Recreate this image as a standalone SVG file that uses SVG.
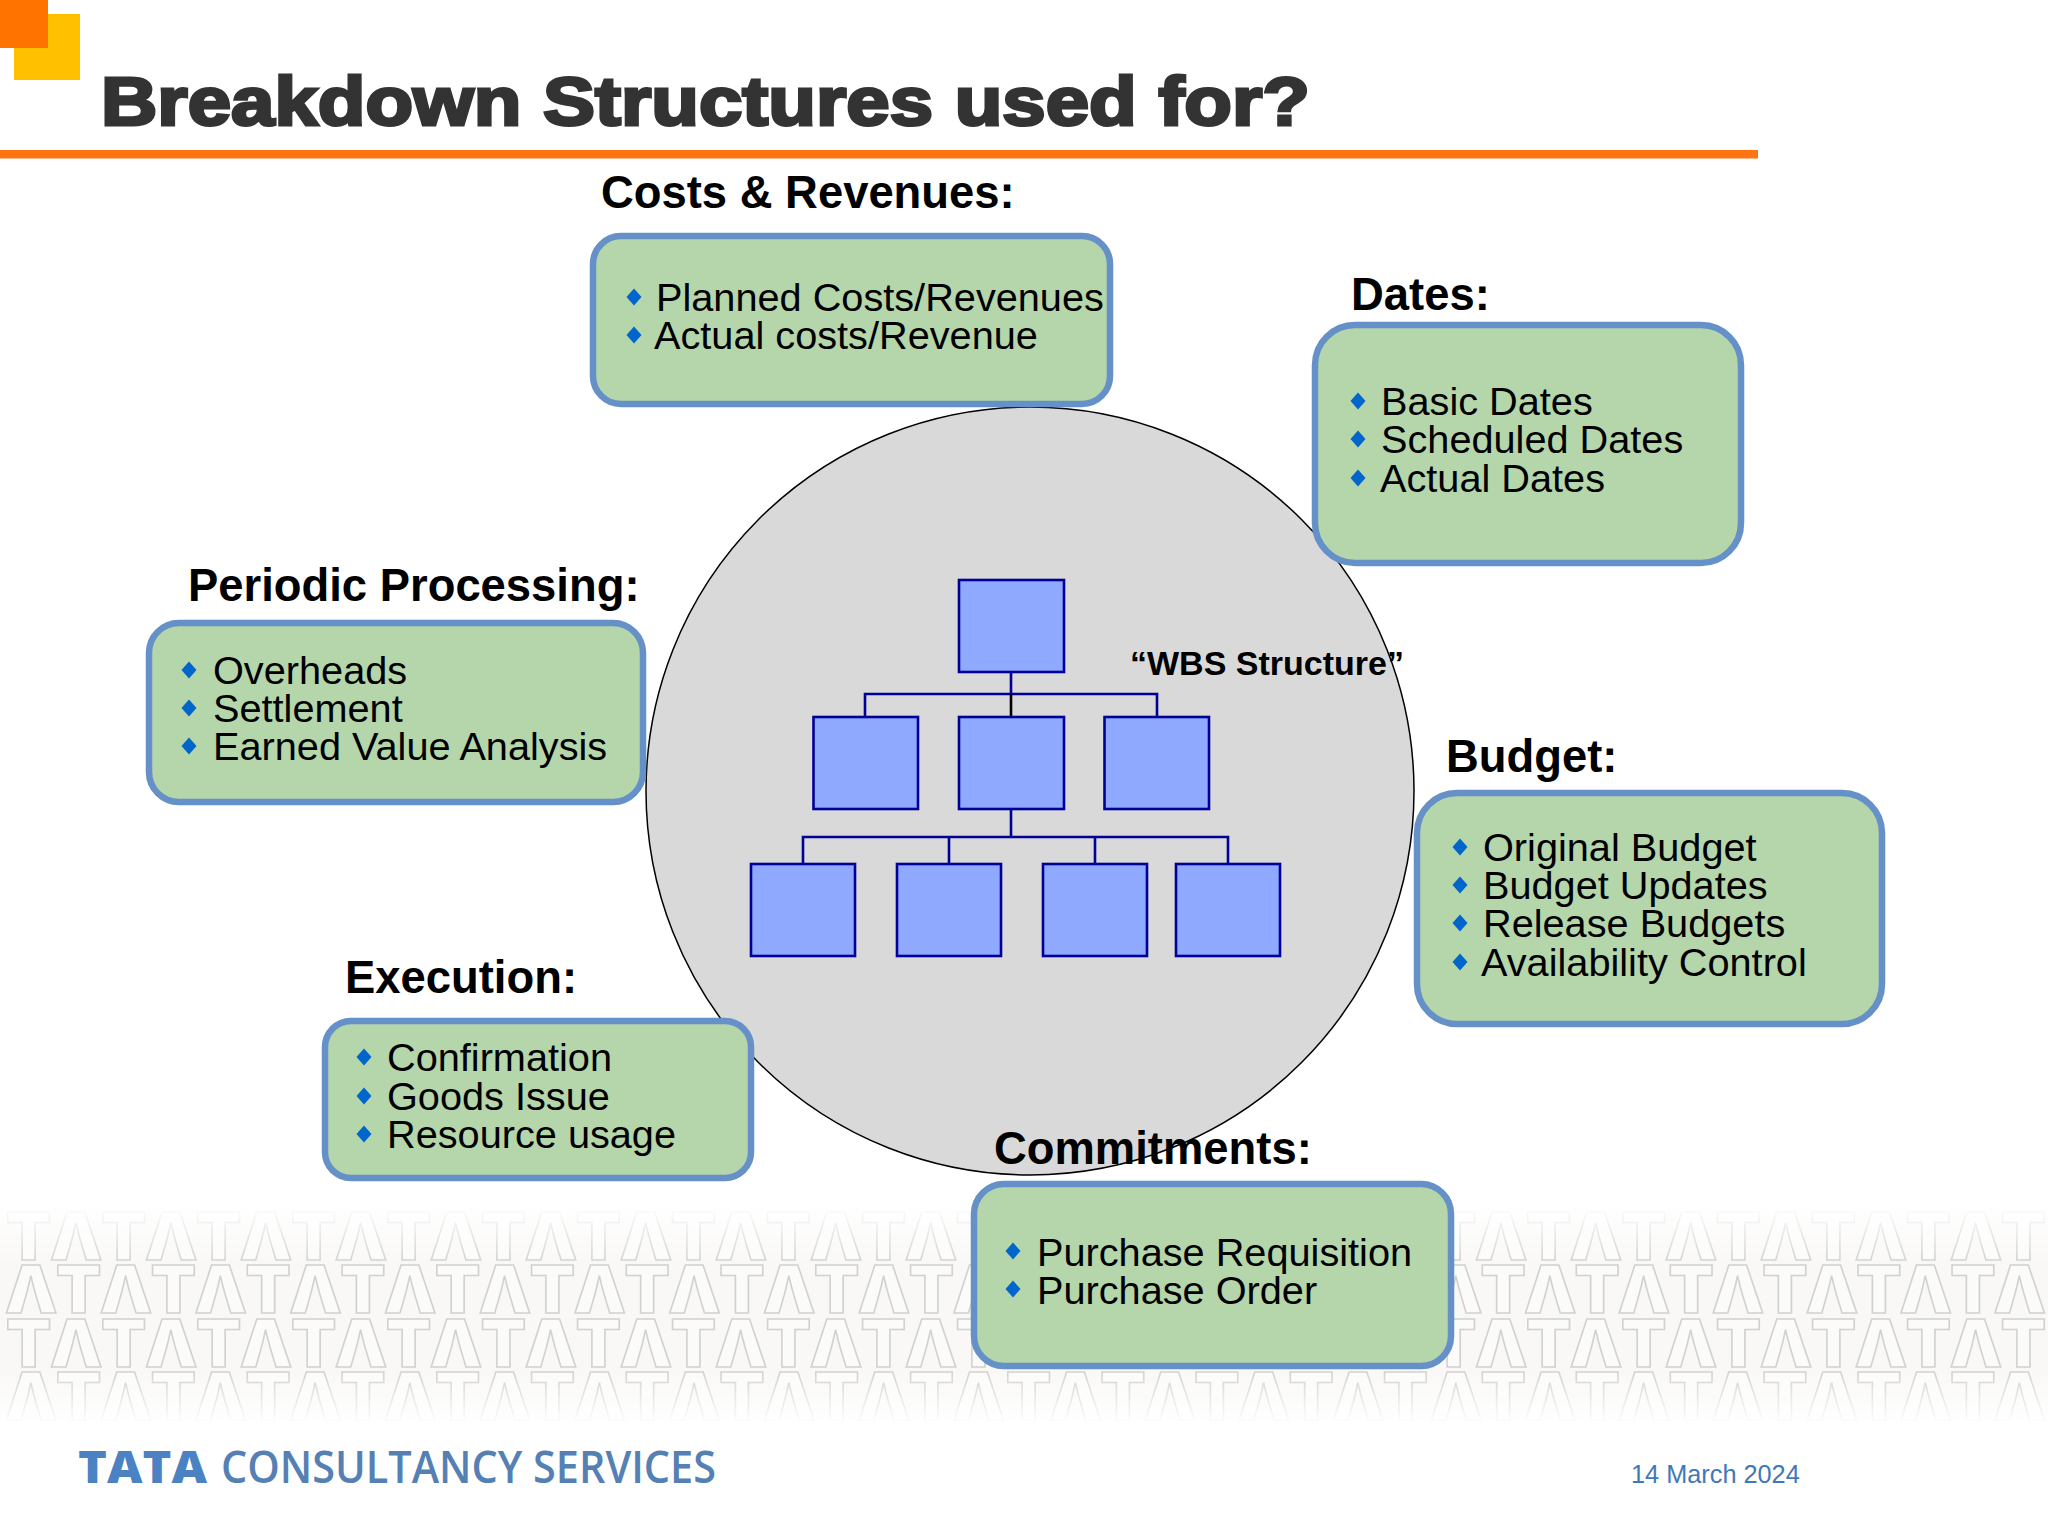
<svg xmlns="http://www.w3.org/2000/svg" width="2048" height="1536" viewBox="0 0 2048 1536">
<style>
text{font-family:"Liberation Sans",Arial,sans-serif}
.h{font-size:45.4px;font-weight:700;fill:#000}
.t{font-size:39.7px;fill:#000}
.box{fill:#B5D5AB;stroke:#6690C8;stroke-width:6.5}
.org{fill:#8FA9FF;stroke:#000099;stroke-width:2.6}
.c{fill:none;stroke:#000099;stroke-width:2.6}
text.wm{font-family:Inter,"Liberation Sans",sans-serif;font-size:66px;font-weight:900;fill:#fbfbfa;stroke:#d2d1cf;stroke-width:1.6;font-kerning:none}
</style>
<defs>
<polygon id="d" points="0,-8.5 7.5,0 0,8.5 -7.5,0" fill="#0066CC"/>
<linearGradient id="fade" gradientUnits="userSpaceOnUse" x1="0" y1="1205" x2="0" y2="1425">
<stop offset="0" stop-color="#fff" stop-opacity="0"/>
<stop offset="0.27" stop-color="#fff"/>
<stop offset="0.75" stop-color="#fff"/>
<stop offset="1" stop-color="#fff" stop-opacity="0"/>
</linearGradient>
<mask id="m" maskUnits="userSpaceOnUse" x="0" y="1200" width="2048" height="230"><rect x="0" y="1200" width="2048" height="230" fill="url(#fade)"/></mask>
</defs>
<rect width="2048" height="1536" fill="#fff"/>
<g id="watermark" mask="url(#m)">
<rect x="0" y="1205" width="2048" height="220" fill="#f9f8f6"/>
<text class="wm"><tspan x="6" y="1260" textLength="995">TΛTΛTΛTΛTΛTΛTΛTΛTΛTΛT</tspan><tspan x="5" y="1313" textLength="1000">ΛTΛTΛTΛTΛTΛTΛTΛTΛTΛTΛ</tspan><tspan x="6" y="1367" textLength="995">TΛTΛTΛTΛTΛTΛTΛTΛTΛTΛT</tspan><tspan x="5" y="1420" textLength="1000">ΛTΛTΛTΛTΛTΛTΛTΛTΛTΛTΛ</tspan></text>
<text class="wm" x="1006" y="1420" textLength="422">TΛTΛTΛTΛT</text>
<text class="wm"><tspan x="1431" y="1260" textLength="615">TΛTΛTΛTΛTΛTΛT</tspan><tspan x="1430" y="1313" textLength="616">ΛTΛTΛTΛTΛTΛTΛ</tspan><tspan x="1431" y="1367" textLength="615">TΛTΛTΛTΛTΛTΛT</tspan><tspan x="1430" y="1420" textLength="616">ΛTΛTΛTΛTΛTΛTΛ</tspan></text>
</g>
<g id="header">
<rect x="14" y="14" width="66" height="66" fill="#FFC000"/>
<rect x="0" y="0" width="48" height="48" fill="#FF7300"/>
<text x="101" y="125" font-size="68" font-weight="700" fill="#333" stroke="#333" stroke-width="3" textLength="1209" lengthAdjust="spacingAndGlyphs">Breakdown Structures used for?</text>
<rect x="0" y="150" width="1758" height="8.5" fill="#FF7410"/>
</g>
<circle id="hub" cx="1030" cy="791" r="384" fill="#D9D9D9" stroke="#000" stroke-width="1.5"/>
<g id="connectors">
<path class="c" d="M1011 672V694M865 717V694H1157V717"/>
<path d="M1011 694V717" fill="none" stroke="#000" stroke-width="2.6"/>
<path class="c" d="M1011 809V837M803 864V837H1228V864M949 837V864M1095 837V864"/>
</g>
<g id="wbs-1"><rect class="org" x="959" y="580" width="105" height="92"/></g>
<g id="wbs-2"><rect class="org" x="813.5" y="717" width="104.500" height="92"/></g>
<g id="wbs-3"><rect class="org" x="959" y="717" width="105" height="92"/></g>
<g id="wbs-4"><rect class="org" x="1104.500" y="717" width="104.500" height="92"/></g>
<g id="wbs-5"><rect class="org" x="751" y="864" width="104" height="92"/></g>
<g id="wbs-6"><rect class="org" x="897" y="864" width="104" height="92"/></g>
<g id="wbs-7"><rect class="org" x="1043" y="864" width="104" height="92"/></g>
<g id="wbs-8"><rect class="org" x="1176" y="864" width="104" height="92"/></g>
<text id="wbs-label" x="1130" y="675" font-size="34" font-weight="700">“WBS Structure”</text>
<g id="costs">
<text class="h" x="601" y="208">Costs &amp; Revenues:</text>
<rect class="box" x="593" y="236" width="517" height="168" rx="28"/>
<use href="#d" x="634" y="297"/><text class="t" x="656" y="311">Planned Costs/Revenues</text>
<use href="#d" x="634" y="335"/><text class="t" x="654" y="349">Actual costs/Revenue</text>
</g>
<g id="dates">
<text class="h" x="1351" y="310">Dates:</text>
<rect class="box" x="1315" y="325" width="426" height="238" rx="40"/>
<use href="#d" x="1358" y="401"/><text class="t" x="1381" y="415">Basic Dates</text>
<use href="#d" x="1358" y="439"/><text class="t" x="1381" y="453">Scheduled Dates</text>
<use href="#d" x="1358" y="478"/><text class="t" x="1380" y="492">Actual Dates</text>
</g>
<g id="periodic">
<text class="h" x="188" y="601">Periodic Processing:</text>
<rect class="box" x="149" y="623" width="494" height="179" rx="30"/>
<use href="#d" x="189" y="670"/><text class="t" x="213" y="684">Overheads</text>
<use href="#d" x="189" y="708"/><text class="t" x="213" y="722">Settlement</text>
<use href="#d" x="189" y="746"/><text class="t" x="213" y="760">Earned Value Analysis</text>
</g>
<g id="budget">
<text class="h" x="1446" y="772">Budget:</text>
<rect class="box" x="1417" y="793" width="465" height="231" rx="40"/>
<use href="#d" x="1460" y="847"/><text class="t" x="1483" y="861">Original Budget</text>
<use href="#d" x="1460" y="885"/><text class="t" x="1483" y="899">Budget Updates</text>
<use href="#d" x="1460" y="923"/><text class="t" x="1483" y="937">Release Budgets</text>
<use href="#d" x="1460" y="962"/><text class="t" x="1481" y="976">Availability Control</text>
</g>
<g id="execution">
<text class="h" x="345" y="993">Execution:</text>
<rect class="box" x="325" y="1021" width="426" height="157" rx="26"/>
<use href="#d" x="364" y="1057"/><text class="t" x="387" y="1071">Confirmation</text>
<use href="#d" x="364" y="1096"/><text class="t" x="387" y="1110">Goods Issue</text>
<use href="#d" x="364" y="1134"/><text class="t" x="387" y="1148">Resource usage</text>
</g>
<g id="commitments">
<text class="h" x="994" y="1164">Commitments:</text>
<rect class="box" x="974" y="1184" width="477" height="182" rx="30"/>
<use href="#d" x="1013" y="1251"/><text class="t" x="1037" y="1266">Purchase Requisition</text>
<use href="#d" x="1013" y="1289"/><text class="t" x="1037" y="1304">Purchase Order</text>
</g>
<g id="footer">
<text x="78" y="1483" font-size="45" font-weight="800" fill="#4A82C3" style="font-family:'Open Sans','Liberation Sans',sans-serif" textLength="129" lengthAdjust="spacingAndGlyphs">TATA</text>
<text x="221" y="1483" font-size="45" font-weight="600" fill="#5580B4" style="font-family:'Open Sans','Liberation Sans',sans-serif" textLength="495" lengthAdjust="spacingAndGlyphs">CONSULTANCY SERVICES</text>
<text x="1631" y="1483" font-size="25.3" fill="#3F78B8">14 March 2024</text>
</g>
</svg>
